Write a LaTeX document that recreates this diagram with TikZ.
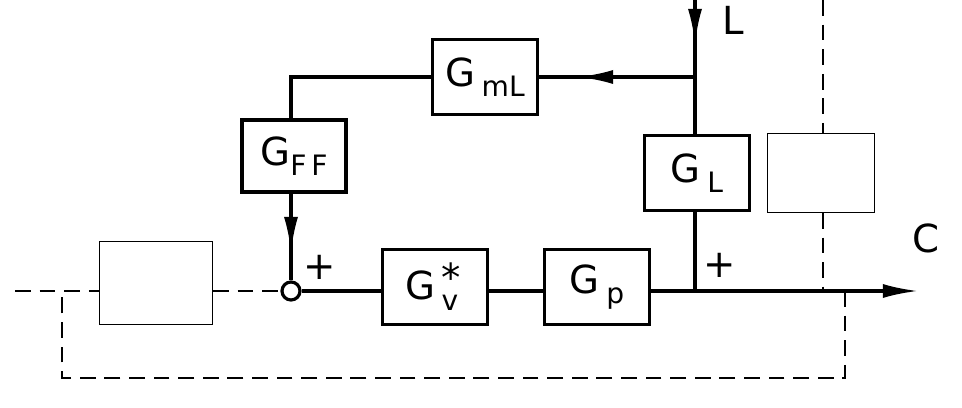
\documentclass[tikz,border=0pt]{standalone}
\usepackage{fontspec}
\setmainfont{DejaVu Sans}
\usetikzlibrary{arrows.meta}
\begin{document}
\begin{tikzpicture}[x=0.02cm,y=-0.02cm,
  blk/.style={draw,line width=1.8pt,minimum width=2.1cm,minimum height=1.5cm,inner sep=0pt,font=\fontsize{22}{26}\selectfont},
  ctl/.style={draw,line width=0.5pt,inner sep=0pt},
  sig/.style={line width=1.8pt},
  arr/.style={sig,-{Latex[length=20pt,width=8pt]}},
  dsh/.style={line width=0.6pt,dash pattern=on 9pt off 5pt},
  sub/.style={},
  lbl/.style={font=\fontsize{22}{26}\selectfont}]
\useasboundingbox (0,0) rectangle (962,408);
% blocks
\node[blk] (gv) at (435,287) {G\,\rlap{\raisebox{0.35ex}{*}}\raisebox{-0.55ex}{\fontsize{16}{18}\selectfont v}\,};
\node[blk] (gp) at (597,287) {G\,\raisebox{-0.5ex}{\fontsize{16}{18}\selectfont p}};
\node[blk] (gl) at (697,173) {G\,\raisebox{-0.5ex}{\fontsize{16}{18}\selectfont L}};
\node[blk] (gml) at (485,77) {G\,\raisebox{-0.5ex}{\fontsize{16}{18}\selectfont mL}};
\node[blk,minimum width=2.08cm,minimum height=1.44cm] (gff) at (294,156) {G\raisebox{-0.5ex}{\fontsize{16}{18}\selectfont F\,F}};
\node[ctl,minimum width=2.26cm,minimum height=1.66cm] (cl) at (156,283) {};
\node[ctl,minimum width=2.14cm,minimum height=1.58cm] (cr) at (821,173) {};
\node[draw,circle,line width=1.8pt,minimum size=0.36cm,inner sep=0pt] (s) at (291,291) {};
% coordinates
\coordinate (j) at (695,291);
\coordinate (top) at (695,0);
\coordinate (ta) at (695,44);
\coordinate (out) at (918,291);
\coordinate (mlr) at (695,77);
\coordinate (ma) at (578,77);
\coordinate (ffc) at (291,77);
\coordinate (fa) at (291,252);
% signals
\draw[sig] (s.east) -- (gv.west |- s.east);
\draw[sig] (gv.east |- s.east) -- (gp.west |- s.east);
\draw[arr] (gp.east |- j) -- (out);
\draw[sig] (top) -- (gl.north -| top);
\draw[arr] (top) -- (ta);
\draw[sig] (gl.south -| top) -- (j);
\draw[sig] (mlr) -- (gml.east);
\draw[arr] (mlr) -- (ma);
\draw[sig] (gml.west) -- (ffc) -- (gff.north -| ffc);
\draw[sig] (gff.south -| ffc) -- (s.north);
\draw[arr] (gff.south -| ffc) -- (fa);
% controller dashed
\draw[dsh] (15,291) -- (cl.west |- s);
\draw[dsh] (cl.east |- s) -- (s.west);
\draw[dsh] (823,0) -- (823,0 |- cr.north);
\draw[dsh] (823,0 |- cr.south) -- (823,291);
\draw[dsh] (845,291) -- (845,378) -- (62,378) -- (62,291);
% labels
\node[lbl] (p1) at (320,267) {+};
\node[lbl] (p2) at (720,265) {+};
\node[lbl] (ll) at (733,20) {L};
\node[lbl] (lc) at (926,238) {C};
\end{tikzpicture}
\end{document}
